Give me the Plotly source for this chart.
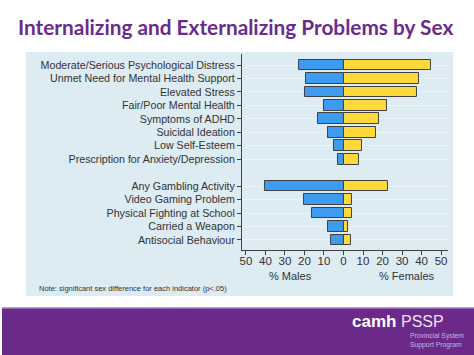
import plotly.graph_objects as go

W, H = 474, 355

internal_labels = [
    "Moderate/Serious Psychological Distress",
    "Unmet Need for Mental Health Support",
    "Elevated Stress",
    "Fair/Poor Mental Health",
    "Symptoms of ADHD",
    "Suicidal Ideation",
    "Low Self-Esteem",
    "Prescription for Anxiety/Depression",
]
internal_males = [23, 19, 19.5, 10, 13, 8, 5, 2.7]
internal_females = [45, 38.5, 37.5, 22.5, 18, 16.5, 9.5, 8]

external_labels = [
    "Any Gambling Activity",
    "Video Gaming Problem",
    "Physical Fighting at School",
    "Carried a Weapon",
    "Antisocial Behaviour",
]
external_males = [40, 20, 16, 8, 6.3]
external_females = [23, 4.5, 4.5, 2.2, 4]

tick_values = [-50, -40, -30, -20, -10, 0, 10, 20, 30, 40, 50]
tick_labels = ["50", "40", "30", "20", "10", "0", "10", "20", "30", "40", "50"]

# row positions: internalizing rows, one blank spacer row, then externalizing rows
labels = internal_labels + external_labels
males = internal_males + external_males
females = internal_females + external_females
positions = list(range(len(internal_labels))) + [len(internal_labels) + 1 + i for i in range(len(external_labels))]

fig = go.Figure()
fig.add_trace(go.Bar(
    y=positions, x=[-m for m in males], orientation="h", width=0.8,
    marker=dict(color="#3D9BF2", line=dict(color="#404040", width=1)),
    name="Males", showlegend=False, hoverinfo="skip",
))
fig.add_trace(go.Bar(
    y=positions, x=females, orientation="h", width=0.8,
    marker=dict(color="#FFD83A", line=dict(color="#404040", width=1)),
    name="Females", showlegend=False, hoverinfo="skip",
))

def px(x):
    return x / W

def py(y):
    return 1 - y / H

fig.update_layout(
    width=W, height=H,
    margin=dict(l=0, r=0, t=0, b=0),
    paper_bgcolor="white",
    plot_bgcolor="white",
    barmode="overlay",
    bargap=0,
    xaxis=dict(
        domain=[px(241), px(448)],
        range=[-52.0, 53.6],
        tickvals=tick_values, ticktext=tick_labels,
        ticks="outside", ticklen=4, tickcolor="#404040",
        ticklabelstandoff=-4,
        showline=True, linecolor="#404040", linewidth=1,
        showgrid=False, zeroline=False,
        tickfont=dict(family="Liberation Sans, Arial", size=11.5, color="#333333"),
    ),
    yaxis=dict(
        domain=[py(250), py(54)],
        range=[13.75, -0.82],
        tickvals=positions, ticktext=labels,
        ticks="outside", ticklen=4, tickcolor="#404040",
        showline=True, linecolor="#404040", linewidth=1,
        showgrid=True, gridcolor="#EEF2F5", gridwidth=1,
        zeroline=False,
        tickfont=dict(family="Liberation Sans, Arial", size=10.7, color="#333333"),
    ),
    shapes=[
        dict(type="rect", xref="paper", yref="paper", layer="below",
             x0=px(24), x1=px(453), y0=py(296), y1=py(52),
             fillcolor="#DDEBF3", line=dict(width=0)),
        dict(type="rect", xref="paper", yref="paper", layer="below",
             x0=0, x1=1, y0=0, y1=py(308),
             fillcolor="#6B2A8A", line=dict(width=0)),
        dict(type="line", xref="paper", yref="paper", layer="below",
             x0=0, x1=1, y0=py(308), y1=py(308),
             line=dict(color="#A47CC0", width=1.5)),
    ],
    annotations=[
        dict(text="<b>Internalizing and Externalizing Problems by Sex</b>",
             xref="paper", yref="paper", x=px(234), y=py(26),
             xanchor="center", yanchor="middle", showarrow=False,
             font=dict(family="Lato, Open Sans", size=20.8, color="#6B2A8C")),
        dict(text="% Males", xref="paper", yref="paper", x=px(290), y=py(276),
             xanchor="center", yanchor="middle", showarrow=False,
             font=dict(family="Liberation Sans, Arial", size=11, color="#333333")),
        dict(text="% Females", xref="paper", yref="paper", x=px(407), y=py(276),
             xanchor="center", yanchor="middle", showarrow=False,
             font=dict(family="Liberation Sans, Arial", size=11, color="#333333")),
        dict(text="Note: significant sex difference for each indicator (p<.05)",
             xref="paper", yref="paper", x=px(35), y=py(288),
             xanchor="left", yanchor="middle", showarrow=False,
             font=dict(family="Liberation Sans, Arial", size=7.5, color="#333333")),
        dict(text="<b>camh</b>", xref="paper", yref="paper", x=px(398), y=py(321),
             xanchor="right", yanchor="middle", showarrow=False,
             font=dict(family="Liberation Sans, Arial", size=17, color="white")),
        dict(text="PSSP", xref="paper", yref="paper", x=px(399), y=py(321),
             xanchor="left", yanchor="middle", showarrow=False,
             font=dict(family="Liberation Sans, Arial", size=16, color="#EDE3F3")),
        dict(text="Provincial System<br>Support Program", xref="paper", yref="paper",
             x=px(408), y=py(340), xanchor="left", yanchor="middle", align="left",
             showarrow=False,
             font=dict(family="Liberation Sans, Arial", size=6.8, color="#C9B2DA")),
    ],
)

fig.write_html(
    "out.html",
    config={"displayModeBar": False},
    post_script="document.body.style.margin='0';document.body.style.overflow='hidden';",
)
